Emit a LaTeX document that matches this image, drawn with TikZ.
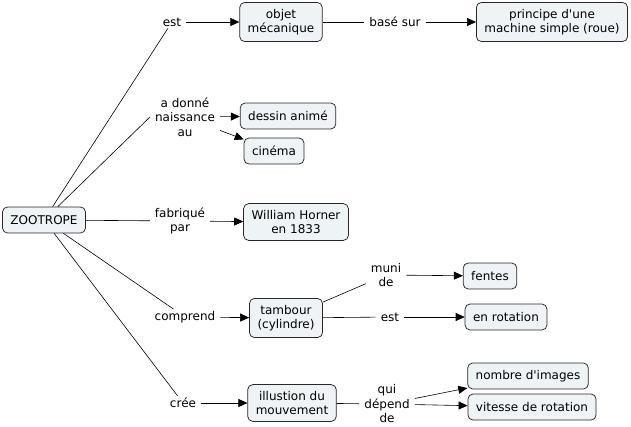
\documentclass[tikz,border=0pt]{standalone}
\usepackage{fontspec}
\setmainfont{DejaVu Sans}[Ligatures=TeXOff]
\usetikzlibrary{arrows.meta}
\definecolor{boxfill}{RGB}{238,243,246}
\definecolor{boxline}{RGB}{40,40,40}
\tikzset{
  concept/.style={draw=boxline, fill=boxfill, rounded corners=5pt, align=center,
    inner xsep=8pt, inner ysep=6.5pt, minimum height=26pt, line width=0.75pt},
  linklabel/.style={align=center, inner xsep=5pt, inner ysep=2pt},
  link/.style={draw=black, line width=0.6pt},
  arr/.style={draw=black, line width=0.6pt, -{Triangle[length=9pt,width=8pt]}}
}
\begin{document}
\begin{tikzpicture}[x=1pt,y=-1pt,font=\fontsize{12}{14.5}\selectfont]
\useasboundingbox (0,0) rectangle (631,426);
% concepts
\node[concept] (zoo) at (44,220) {ZOOTROPE};
\node[concept] (obj) at (281,22) {objet\\mécanique};
\node[concept] (prin) at (552,22) {principe d'une\\machine simple (roue)};
\node[concept] (dessin) at (288,116) {dessin animé};
\node[concept] (cine) at (274,151) {cinéma};
\node[concept] (will) at (296,222) {William Horner\\en 1833};
\node[concept] (tamb) at (286,318) {tambour\\(cylindre)};
\node[concept] (fentes) at (490,276) {fentes};
\node[concept] (rot) at (506,317) {en rotation};
\node[concept] (ill) at (292,403) {illustion du\\mouvement};
\node[concept] (nombre) at (528,376) {nombre d'images};
\node[concept] (vit) at (532,407) {vitesse de rotation};
% link labels
\node[linklabel] (lest) at (172,22) {est};
\node[linklabel] (ldon) at (185,117) {a donné\\naissance\\au};
\node[linklabel] (lfab) at (180,221) {fabriqué\\par};
\node[linklabel] (lcomp) at (185,317) {comprend};
\node[linklabel] (lcree) at (183,403) {crée};
\node[linklabel] (lbase) at (395,22) {basé sur};
\node[linklabel] (lmuni) at (386,275) {muni\\de};
\node[linklabel] (lest2) at (390,317) {est};
\node[linklabel] (lqui) at (387,404) {qui\\dépend\\de};
% connectors
\draw[link] (zoo) -- (lest);
\draw[arr] (lest) -- (obj);
\draw[link] (obj) -- (lbase);
\draw[arr] (lbase) -- (prin);
\draw[link] (zoo) -- (ldon.west);
\draw[arr] (ldon) -- (dessin);
\draw[arr] (ldon) -- (cine);
\draw[link] (zoo) -- (lfab);
\draw[arr] (lfab) -- (will);
\draw[link] (zoo) -- (lcomp);
\draw[arr] (lcomp) -- (tamb);
\draw[link] (tamb) -- (lmuni);
\draw[arr] (lmuni) -- (fentes);
\draw[link] (tamb) -- (lest2);
\draw[arr] (lest2) -- (rot);
\draw[link] (zoo) -- (lcree);
\draw[arr] (lcree) -- (ill);
\draw[link] (ill) -- (lqui);
\draw[arr] (lqui) -- (nombre);
\draw[arr] (lqui) -- (vit);
\end{tikzpicture}
\end{document}
